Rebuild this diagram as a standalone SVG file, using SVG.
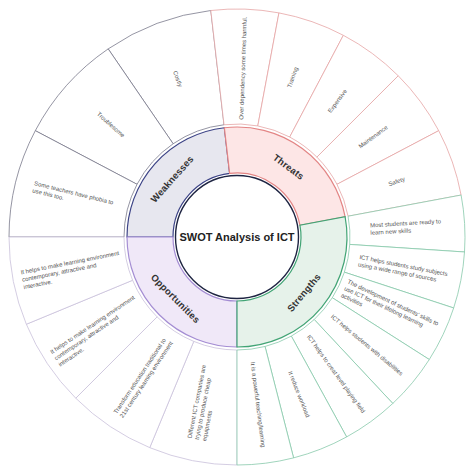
<svg xmlns="http://www.w3.org/2000/svg" width="474" height="474" viewBox="0 0 474 474">
<style>
.seg{stroke-width:0.8}
.sw{fill:#fff;stroke:#7a7a8c}
.st{fill:#fff;stroke:#e6a4a4}
.ss{fill:#fff;stroke:#88c9ab}
.so{fill:#fff;stroke:#c9c0da}
.band{stroke-width:1.2}
.bw{fill:#e7e7ef;stroke:#3c4386}
.bt{fill:#fde6e6;stroke:#e38585}
.bs{fill:#e6f2ea;stroke:#42a475}
.bo{fill:#f0e8f8;stroke:#a48dd3}
.lbl{font-family:"Liberation Sans",Arial,sans-serif;font-size:6px;fill:#555}
.ql{font-family:"Liberation Sans",Arial,sans-serif;font-size:9.5px;font-weight:bold;fill:#333;text-anchor:middle;letter-spacing:0.2px}
.title{font-family:"Liberation Sans",Arial,sans-serif;font-size:11px;font-weight:bold;fill:#222;text-anchor:middle}
.c{text-anchor:middle}
</style>
<rect width="474" height="474" fill="#fff"/>
<g id="weakness-items">
<g id="w1"><path class="seg sw" d="M108.18,48.88 A228,228 0 0 1 210.80,10.50 L224.02,124.75 A113,113 0 0 0 173.15,143.76 Z"/>
<text class="lbl c" transform="translate(177.82,78.70) rotate(69.5)" y="2.1">Costly</text></g>
<g id="w2"><path class="seg sw" d="M35.31,130.66 A228,228 0 0 1 108.18,48.88 L173.15,143.76 A113,113 0 0 0 137.04,184.30 Z"/>
<text class="lbl c" transform="translate(110.82,124.58) rotate(41.7)" y="2.1">Troublesome</text></g>
<g id="w3"><path class="seg sw" d="M9,237 A228,228 0 0 1 35.31,130.66 L137.04,184.30 A113,113 0 0 0 124,237 Z"/>
<text class="lbl" transform="translate(72.95,196.41) rotate(13.9)"><tspan x="-40.7" y="-1.65">Some teachers have phobia to</tspan><tspan x="-40.7" y="5.85">use this too.</tspan></text></g>
</g>
<g id="threat-items">
<g id="t1"><path class="seg st" d="M210.80,10.50 A228,228 0 0 1 278.95,12.90 L257.79,125.93 A113,113 0 0 0 224.02,124.75 Z"/>
<text class="lbl c" transform="translate(242.90,68.10) rotate(-88)" y="2.1">Over dependency some times harmful.</text></g>
<g id="t2"><path class="seg st" d="M278.95,12.90 A228,228 0 0 1 343.34,35.31 L289.70,137.04 A113,113 0 0 0 257.79,125.93 Z"/>
<text class="lbl c" transform="translate(292.58,77.40) rotate(-70.8)" y="2.1">Training</text></g>
<g id="t3"><path class="seg st" d="M343.34,35.31 A228,228 0 0 1 398.22,75.78 L316.90,157.10 A113,113 0 0 0 289.70,137.04 Z"/>
<text class="lbl c" transform="translate(337.28,100.97) rotate(-53.6)" y="2.1">Expensive</text></g>
<g id="t4"><path class="seg st" d="M398.22,75.78 A228,228 0 0 1 438.69,130.66 L336.96,184.30 A113,113 0 0 0 316.90,157.10 Z"/>
<text class="lbl c" transform="translate(373.03,136.72) rotate(-36.4)" y="2.1">Maintenance</text></g>
<g id="t5"><path class="seg st" d="M438.69,130.66 A228,228 0 0 1 461.10,195.05 L348.07,216.21 A113,113 0 0 0 336.96,184.30 Z"/>
<text class="lbl c" transform="translate(396.60,181.42) rotate(-19.2)" y="2.1">Safety</text></g>
</g>
<g id="opportunity-items">
<g id="o4"><path class="seg so" d="M237,465 A228,228 0 0 1 149.74,447.65 L193.75,341.40 A113,113 0 0 0 237,350 Z"/>
<text class="lbl" transform="translate(204.03,402.75) rotate(-78.75)"><tspan x="-37.5" y="-5.4">Different ICT companies are</tspan><tspan x="-37.5" y="2.1">trying to produce cheap</tspan><tspan x="-37.5" y="9.6">equipments</tspan></text></g>
<g id="o3"><path class="seg so" d="M149.74,447.65 A228,228 0 0 1 75.78,398.22 L157.10,316.90 A113,113 0 0 0 193.75,341.40 Z"/>
<text class="lbl" transform="translate(143.11,377.52) rotate(-56.25)"><tspan x="-45.2" y="-1.65">Transform education traditional to</tspan><tspan x="-45.2" y="5.85">21st century learning environment</tspan></text></g>
<g id="o2"><path class="seg so" d="M75.78,398.22 A228,228 0 0 1 26.35,324.26 L132.60,280.25 A113,113 0 0 0 157.10,316.90 Z"/>
<text class="lbl" transform="translate(96.48,330.89) rotate(-33.75)"><tspan x="-50" y="-5.4">It helps to make learning environment</tspan><tspan x="-50" y="2.1">contemporary, attractive and</tspan><tspan x="-50" y="9.6">interactive.</tspan></text></g>
<g id="o1"><path class="seg so" d="M26.35,324.26 A228,228 0 0 1 9,237 L124,237 A113,113 0 0 0 132.60,280.25 Z"/>
<text class="lbl" transform="translate(71.25,269.97) rotate(-11.25)"><tspan x="-50" y="-5.4">It helps to make learning environment</tspan><tspan x="-50" y="2.1">contemporary, attractive and</tspan><tspan x="-50" y="9.6">interactive.</tspan></text></g>
</g>
<g id="strength-items">
<g id="s1"><path class="seg ss" d="M461.10,195.05 A228,228 0 0 1 464.51,251.99 L349.76,244.43 A113,113 0 0 0 348.07,216.21 Z"/>
<text class="lbl" transform="translate(405.70,226.93) rotate(-3.4)"><tspan x="-35.5" y="-1.65">Most students are ready to</tspan><tspan x="-35.5" y="5.85">learn new skills</tspan></text></g>
<g id="s2"><path class="seg ss" d="M464.51,251.99 A228,228 0 0 1 453.67,307.98 L344.38,272.18 A113,113 0 0 0 349.76,244.43 Z"/>
<text class="lbl" transform="translate(402.92,269.12) rotate(10.96)"><tspan x="-44.9" y="-1.65">ICT helps students study subjects</tspan><tspan x="-44.9" y="5.85">using a wide range of sources</tspan></text></g>
<g id="s3"><path class="seg ss" d="M453.67,307.98 A228,228 0 0 1 429.27,359.53 L332.29,297.73 A113,113 0 0 0 344.38,272.18 Z"/>
<text class="lbl" transform="translate(389.76,309.29) rotate(25.3)"><tspan x="-49.9" y="-5.4">The development of students' skills to</tspan><tspan x="-49.9" y="2.1">use ICT for their lifelong learning</tspan><tspan x="-49.9" y="9.6">activities</tspan></text></g>
<g id="s4"><path class="seg ss" d="M429.27,359.53 A228,228 0 0 1 392.81,403.45 L314.22,319.50 A113,113 0 0 0 332.29,297.73 Z"/>
<text class="lbl c" transform="translate(367.03,344.96) rotate(39.7)" y="2.1">ICT helps students with disabilities</text></g>
<g id="s5"><path class="seg ss" d="M392.81,403.45 A228,228 0 0 1 346.61,436.93 L291.32,336.09 A113,113 0 0 0 314.22,319.50 Z"/>
<text class="lbl c" transform="translate(336.17,373.84) rotate(54.1)" y="2.1">ICT helps to creat level playing field</text></g>
<g id="s6"><path class="seg ss" d="M346.61,436.93 A228,228 0 0 1 293.59,457.87 L265.04,346.46 A113,113 0 0 0 291.32,336.09 Z"/>
<text class="lbl c" transform="translate(299.09,394.18) rotate(68.4)" y="2.1">It reduce workload</text></g>
<g id="s7"><path class="seg ss" d="M293.59,457.87 A228,228 0 0 1 237,465 L237,350 A113,113 0 0 0 265.04,346.46 Z"/>
<text class="lbl c" transform="translate(258.14,404.67) rotate(82.8)" y="2.1">It is a powerful teaching/learning</text></g>
</g>
<g id="quadrants">
<g id="weaknesses"><path class="band bw" d="M127,237 A110,110 0 0 1 224.36,127.73 L229.65,173.42 A64,64 0 0 0 173,237 Z"/>
<text class="ql" transform="translate(172.05,179.13) rotate(-48.3)" y="3.3">Weaknesses</text></g>
<g id="threats"><path class="band bt" d="M224.36,127.73 A110,110 0 0 1 345.12,216.76 L299.91,225.22 A64,64 0 0 0 229.65,173.42 Z"/>
<text class="ql" transform="translate(288.63,166.97) rotate(36.4)" y="3.3">Threats</text></g>
<g id="opportunities"><path class="band bo" d="M237,347 A110,110 0 0 1 127,237 L173,237 A64,64 0 0 0 237,301 Z"/>
<text class="ql" transform="translate(175.48,298.52) rotate(45)" y="3.3">Opportunities</text></g>
<g id="strengths"><path class="band bs" d="M345.12,216.76 A110,110 0 0 1 237,347 L237,301 A64,64 0 0 0 299.91,225.22 Z"/>
<text class="ql" transform="translate(303.94,292.58) rotate(-50.3)" y="3.3">Strengths</text></g>
</g>
<g id="center">
<circle cx="237" cy="237" r="61.5" fill="#fff" stroke="#1e2442" stroke-width="1.4"/>
<text class="title" x="237" y="241">SWOT Analysis of ICT</text>
</g>
<g id="connectors"/>
</svg>
